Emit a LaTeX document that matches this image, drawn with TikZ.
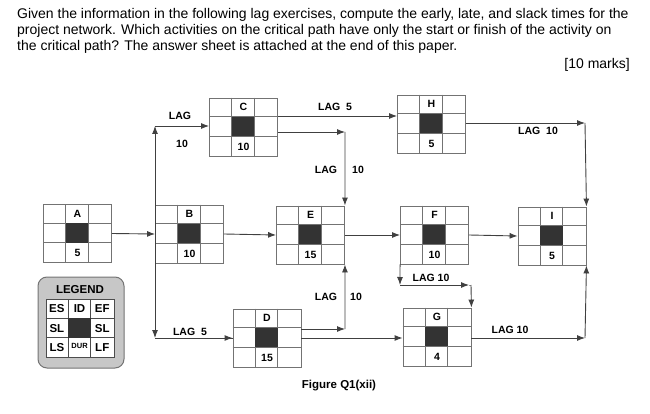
\documentclass[tikz,border=0pt]{standalone}
\usepackage{fontspec}
\setmainfont{Liberation Sans}
\usetikzlibrary{arrows.meta,calc}
\begin{document}
\begin{tikzpicture}[x=1pt,y=-1pt,
  conn/.style={draw=black!75,line width=0.9pt},
  arr/.style={conn,-{Latex[length=8pt,width=6pt]}},
  lag/.style={font=\fontsize{10.5}{12}\selectfont\bfseries,inner sep=0pt},
  box/.style={draw=black!55,line width=0.9pt,minimum width=68pt,minimum height=58pt,inner sep=0pt},
  cell/.style={font=\fontsize{10.5}{12}\selectfont\bfseries,inner sep=0pt}]
\useasboundingbox (0,0) rectangle (650,414);
\newcommand\actbox[5]{%
  \node[box] (#1) at (#2,#3) {};
  \draw[black!55,line width=0.9pt] ($(#1.north west)+(22.67,0)$) -- ($(#1.south west)+(22.67,0)$)
     ($(#1.north west)+(45.33,0)$) -- ($(#1.south west)+(45.33,0)$)
     ($(#1.north west)+(0,19.33)$) -- ($(#1.north east)+(0,19.33)$)
     ($(#1.north west)+(0,38.67)$) -- ($(#1.north east)+(0,38.67)$);
  \fill[black!80] ($(#1.north west)+(22.67,19.33)$) rectangle ($(#1.north west)+(45.33,38.67)$);
  \node[cell] at ($(#1.north)+(0,9.7)$) {#4};
  \node[cell] at ($(#1.south)+(0,-9.7)$) {#5};}
% header
\node[anchor=west,inner sep=0pt,font=\fontsize{14}{16}\selectfont] (t1) at (17,15) {Given the information in the following lag exercises, compute the early, late, and slack times for the};
\node[anchor=west,inner sep=0pt,font=\fontsize{14}{16}\selectfont] (t2) at (17,31) {project network. Which activities on the critical path have only the start or finish of the activity on};
\node[anchor=west,inner sep=0pt,font=\fontsize{14}{16}\selectfont] (t3) at (17,47) {the critical path? The answer sheet is attached at the end of this paper.};
\node[anchor=east,inner sep=0pt,font=\fontsize{14}{16}\selectfont] (mk) at (630,65) {[10 marks]};
% boxes
\actbox{A}{77.5}{233.5}{A}{5}
\actbox{B}{189.5}{234}{B}{10}
\actbox{C}{243.5}{127}{C}{10}
\actbox{D}{267}{338}{D}{15}
\actbox{E}{310.5}{235}{E}{15}
\actbox{H}{431.5}{124}{H}{5}
\actbox{F}{434.5}{235}{F}{10}
\actbox{I}{552}{236}{I}{5}
\actbox{G}{437}{337}{G}{4}
% legend
\node[draw=black!55,fill=black!22,rounded corners=9pt,line width=1pt,minimum width=86pt,minimum height=91pt] (leg) at (81,322.5) {};
\node[cell,font=\fontsize{11.5}{13}\selectfont\bfseries] (legt) at (80,290) {LEGEND};
\node[box,fill=white,draw=black!70] (L) at (80,328.5) {};
\draw[black!70,line width=0.9pt] ($(L.north west)+(22.67,0)$) -- ($(L.south west)+(22.67,0)$)
   ($(L.north west)+(45.33,0)$) -- ($(L.south west)+(45.33,0)$)
   ($(L.north west)+(0,19.33)$) -- ($(L.north east)+(0,19.33)$)
   ($(L.north west)+(0,38.67)$) -- ($(L.north east)+(0,38.67)$);
\fill[black!80] ($(L.north west)+(22.67,19.33)$) rectangle ($(L.north west)+(45.33,38.67)$);
\node[cell,font=\fontsize{11.5}{13}\selectfont\bfseries] at ($(L.north west)+(11.3,9.7)$) {ES};
\node[cell,font=\fontsize{11.5}{13}\selectfont\bfseries] at ($(L.north west)+(34,9.7)$) {ID};
\node[cell,font=\fontsize{11.5}{13}\selectfont\bfseries] at ($(L.north west)+(56.7,9.7)$) {EF};
\node[cell,font=\fontsize{11.5}{13}\selectfont\bfseries] at ($(L.north west)+(11.3,29)$) {SL};
\node[cell,font=\fontsize{11.5}{13}\selectfont\bfseries] at ($(L.north west)+(56.7,29)$) {SL};
\node[cell,font=\fontsize{11.5}{13}\selectfont\bfseries] at ($(L.north west)+(11.3,48.3)$) {LS};
\node[cell,font=\fontsize{7.5}{8}\selectfont\bfseries] at ($(L.north west)+(34,46.5)$) {DUR};
\node[cell,font=\fontsize{11.5}{13}\selectfont\bfseries] at ($(L.north west)+(56.7,48.3)$) {LF};
% connectors
\coordinate (bt) at (155,126);
\coordinate (bb) at (155,338);
\draw[arr] (A.east) -- (B.west);
\draw[arr] (155,234) -- (bt);
\draw[arr] (155,234) -- (bb);
\draw[arr] (bt) -- (C.west |- bt);
\draw[conn] (bb) -- (D.west |- bb);
\draw[arr] ($(bb)+(60,0)$) -- (D.west |- bb);
\draw[arr] (B.east) -- (E.west);
\draw[arr] (C.east |- 0,116) -- (H.west |- 0,116);
\coordinate (ce) at (345,132);
\draw[arr] (C.east |- ce) -- (ce);
\draw[arr] (ce) -- (E.north east);
\coordinate (hi) at (585,123);
\draw[arr] (H.east |- hi) -- (hi);
\draw[arr] (hi) -- (I.north east);
\draw[arr] (E.east) -- (F.west);
\draw[arr] (F.east) -- (I.west);
\coordinate (fd) at (400,285);
\coordinate (fr) at (471,285);
\draw[arr] (F.south west) -- (fd);
\draw[arr] (fd) -- ($(fr)+(-2,0)$);
\draw[conn,dashed,black!40] ($(fr)+(-2,0)$) -- (fr);
\draw[arr] (fr) -- (G.north east);
\coordinate (de) at (345,329);
\draw[arr] (D.east |- de) -- (de);
\draw[arr] (de) -- (E.south east);
\draw[arr] (D.east |- 0,338) -- (G.west |- 0,338);
\coordinate (gi) at (585,338);
\draw[arr] (G.east |- gi) -- (gi);
\draw[arr] (gi) -- (I.south east);
% labels
\node[lag] at (180,116) {LAG};
\node[lag] at (182,144) {10};
\node[lag] at (190,332) {LAG\ \ 5};
\node[lag] at (335,107) {LAG\ \ 5};
\node[lag] at (326,170) {LAG};
\node[lag] at (358,170) {10};
\node[lag] at (538,131) {LAG\ \ 10};
\node[lag] at (431,278) {LAG 10};
\node[lag] at (326,297) {LAG};
\node[lag] at (356,297) {10};
\node[lag] at (510,330) {LAG 10};
\node[inner sep=0pt,font=\fontsize{11.5}{13}\selectfont\bfseries] (fig) at (339,386) {Figure Q1(xii)};
\end{tikzpicture}
\end{document}
